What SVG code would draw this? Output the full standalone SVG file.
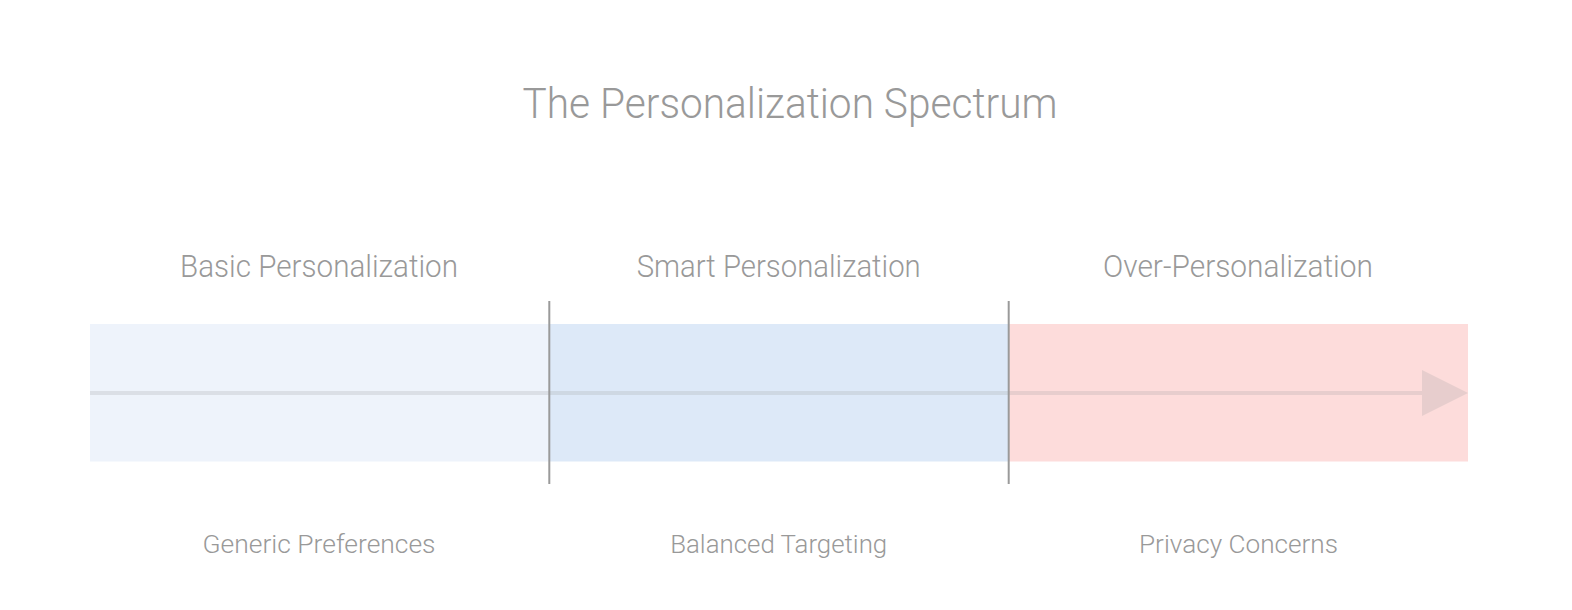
<svg xmlns="http://www.w3.org/2000/svg" width="1572" height="610" viewBox="0 0 1572 610">
  <style>
    .t { font-family: "Roboto", "Liberation Sans", sans-serif; font-weight: 300; fill: #999999; text-anchor: middle; }
    .title { font-size: 43px; }
    .head { font-size: 31px; }
    .sub { font-size: 26.5px; }
    .divider { stroke: #9a9a9a; stroke-width: 2; }
    .axis { stroke: #999999; stroke-opacity: 0.22; stroke-width: 4; fill: none; }
    .axishead { fill: #999999; fill-opacity: 0.22; }
  </style>
  <rect x="0" y="0" width="1572" height="610" fill="#ffffff"/>
  <text id="title" class="t title" x="790" y="117.5" textLength="535" lengthAdjust="spacingAndGlyphs">The Personalization Spectrum</text>

  <g id="basic">
    <rect x="90" y="324" width="459.3" height="137.5" fill="#eef3fb"/>
    <text class="t head" x="319" y="277.3" textLength="278" lengthAdjust="spacingAndGlyphs">Basic Personalization</text>
    <text class="t sub" x="319" y="553" textLength="233" lengthAdjust="spacingAndGlyphs">Generic Preferences</text>
  </g>
  <g id="smart">
    <rect x="549.3" y="324" width="459.4" height="137.5" fill="#dde9f8"/>
    <text class="t head" x="778.7" y="277.3" textLength="284" lengthAdjust="spacingAndGlyphs">Smart Personalization</text>
    <text class="t sub" x="778.7" y="553" textLength="217" lengthAdjust="spacingAndGlyphs">Balanced Targeting</text>
  </g>
  <g id="over">
    <rect x="1008.7" y="324" width="459.3" height="137.5" fill="#fddcdb"/>
    <text class="t head" x="1238" y="277.3" textLength="270" lengthAdjust="spacingAndGlyphs">Over-Personalization</text>
    <text class="t sub" x="1238.5" y="553" textLength="199" lengthAdjust="spacingAndGlyphs">Privacy Concerns</text>
  </g>

  <g id="connectors">
    <line class="axis" x1="90" y1="393" x2="1422" y2="393"/>
    <polygon class="axishead" points="1422,370 1468,393 1422,416"/>
    <line class="divider" x1="549.3" y1="301" x2="549.3" y2="484"/>
    <line class="divider" x1="1008.7" y1="301" x2="1008.7" y2="484"/>
  </g>
</svg>
